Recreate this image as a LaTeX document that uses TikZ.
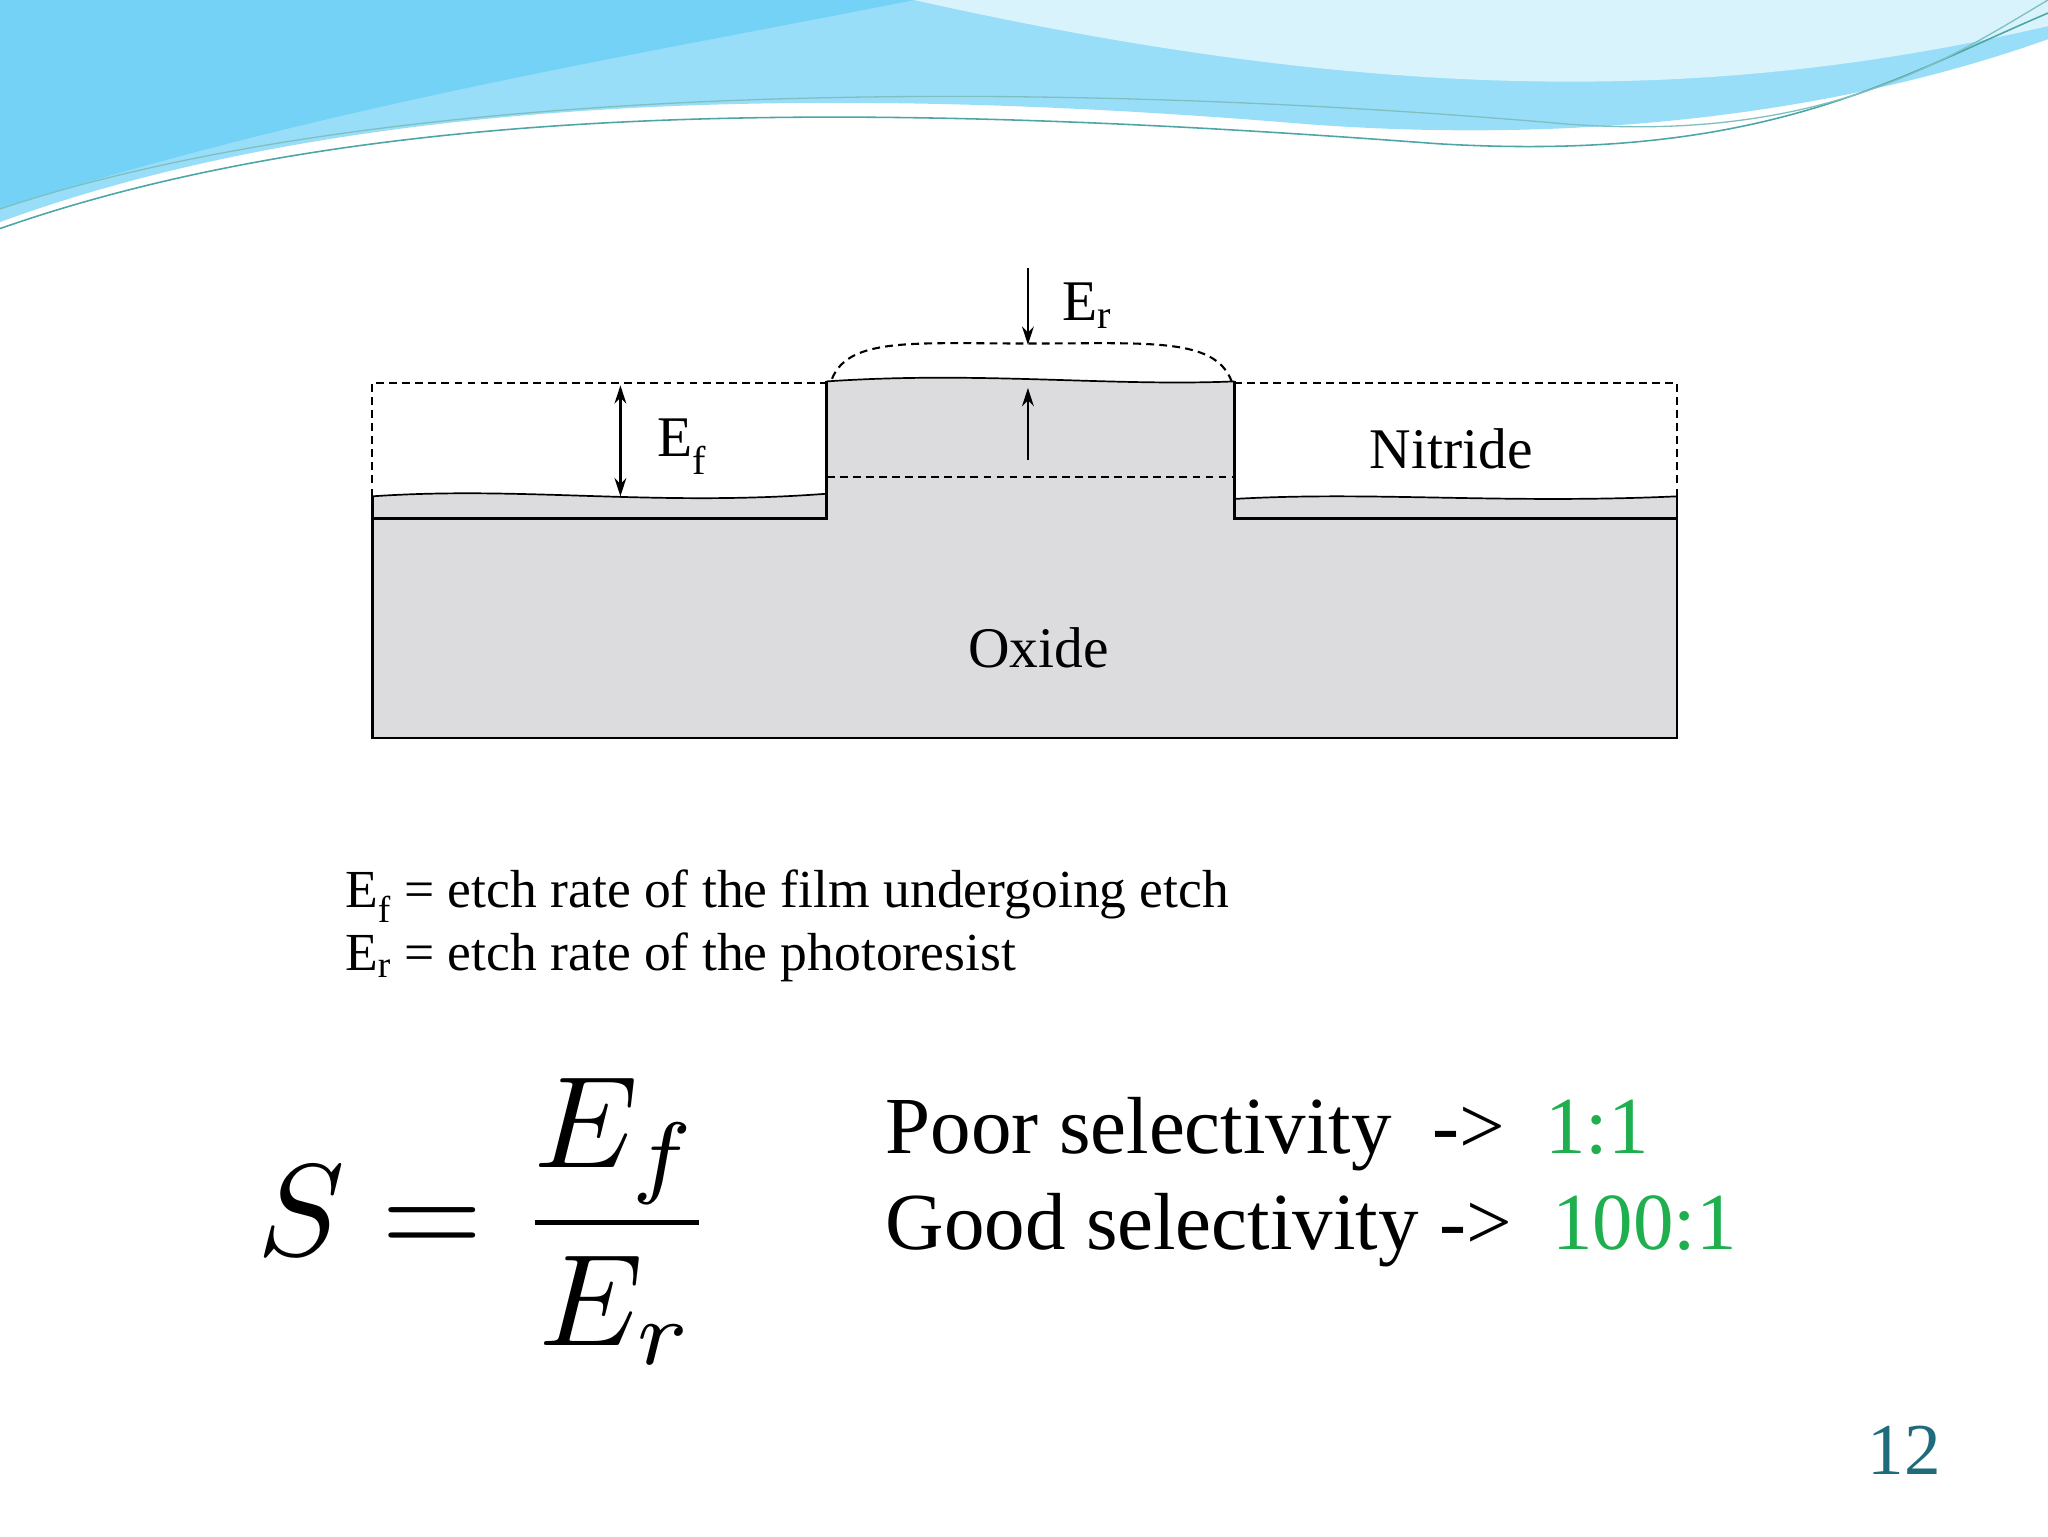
\documentclass[tikz,border=0pt]{standalone}
\usepackage{fontspec}
\setmainfont{Liberation Serif}
\usetikzlibrary{arrows.meta}
\definecolor{oxg}{HTML}{DCDCDE}
\definecolor{teal12}{HTML}{1E6B7B}
\definecolor{grn}{HTML}{1FAF4F}
\tikzset{lbl/.style={inner sep=0pt,font=\fontsize{44}{50}\selectfont},
 dl/.style={dashed,line width=1.6pt,dash pattern=on 6pt off 4pt},
 sl/.style={line width=2pt},
 ar/.style={line width=2pt,-{Stealth[length=14pt,width=9pt]}},
 txt/.style={inner sep=0pt,anchor=west,font=\fontsize{41}{48}\selectfont}}
\begin{document}
\begin{tikzpicture}[x=1pt,y=-1pt]
\useasboundingbox (0,0) rectangle (1568,1176);
\fill[white] (0,0) rectangle (1568,1176);
% header waves
\fill[cyan!40!white] (0,0) -- (1568,0) -- (1568,30) .. controls (1400,90) and (1200,110) .. (1000,95) .. controls (700,70) and (300,60) .. (0,170) -- cycle;
\fill[cyan!55!white] (0,0) -- (700,0) .. controls (500,40) and (250,80) .. (0,160) -- cycle;
\fill[cyan!15!white] (700,0) -- (1568,0) -- (1568,20) .. controls (1350,70) and (1100,90) .. (700,0) -- cycle;
\draw[teal!70,line width=1.2pt] (0,175) .. controls (300,70) and (700,80) .. (1100,110) .. controls (1350,125) and (1450,60) .. (1568,10);
\draw[teal!50,line width=1pt] (0,160) .. controls (300,60) and (800,60) .. (1200,95) .. controls (1400,110) and (1500,40) .. (1568,0);
% diagram
\fill[oxg] (285,397) -- (285,380) .. controls (400,372) and (500,388) .. (633,378) -- (633,292) .. controls (750,284) and (850,296) .. (945,292) -- (945,382) .. controls (1050,376) and (1150,386) .. (1284,380) -- (1284,565) -- (285,565) -- cycle;
\draw[sl] (285,380) -- (285,565) -- (1284,565) -- (1284,380);
\draw[sl] (285,397) -- (633,397) -- (633,292);
\draw[sl] (1284,397) -- (945,397) -- (945,292);
\draw[line width=1.3pt] (285,380) .. controls (400,372) and (500,388) .. (633,378);
\draw[line width=1.3pt] (945,382) .. controls (1050,376) and (1150,386) .. (1284,380);
\draw[line width=1.3pt] (633,292) .. controls (750,284) and (850,296) .. (945,292);
\draw[dl] (285,380) -- (285,293) -- (633,293);
\draw[dl] (1284,380) -- (1284,293) -- (945,293);
\draw[dl] (633,365) -- (945,365);
\draw[dl] (637,290) .. controls (650,258) and (700,263) .. (787,263) .. controls (880,263) and (930,258) .. (943,292);
\coordinate (a1) at (787,205); \coordinate (a2) at (787,264);
\draw[ar] (a1) -- (a2);
\coordinate (b1) at (787,352); \coordinate (b2) at (787,297);
\draw[ar] (b1) -- (b2);
\coordinate (c1) at (475,295); \coordinate (c2) at (475,380);
\draw[line width=2pt,{Stealth[length=14pt,width=9pt]}-{Stealth[length=14pt,width=9pt]}] (c1) -- (c2);
\node[lbl] (er) at (832,234) {E\textsubscript{r}};
\node[lbl] (ef) at (522,342) {E\textsubscript{f}};
\node[lbl] (nit) at (1111,344) {Nitride};
\node[lbl] (ox) at (795,496) {Oxide};
% text
\node[txt] (t1) at (264,686) {E\textsubscript{f} = etch rate of the film undergoing etch};
\node[txt] (t2) at (264,733) {E\textsubscript{r} = etch rate of the photoresist};
\node[inner sep=0pt] (eq) at (372,935) {\scalebox{10}{$\displaystyle S=\frac{E_f}{E_r}$}};
\node[txt,font=\fontsize{62}{72}\selectfont] (p1) at (678,868) {Poor selectivity \ -> \ \textcolor{grn}{1:1}};
\node[txt,font=\fontsize{62}{72}\selectfont] (p2) at (678,942) {Good selectivity -> \ \textcolor{grn}{100:1}};
\node[inner sep=0pt,font=\fontsize{56}{60}\selectfont,text=teal12] (pg) at (1458,1110) {12};
\end{tikzpicture}
\end{document}
